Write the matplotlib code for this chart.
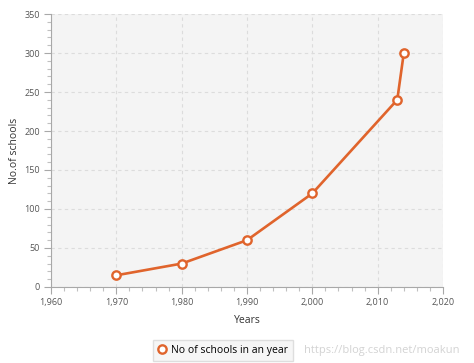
import matplotlib
matplotlib.use('Agg')
import matplotlib.pyplot as plt
from matplotlib.ticker import MultipleLocator, FuncFormatter

# data
years = [1970, 1980, 1990, 2000, 2013, 2014]
schools = [15, 30, 60, 120, 240, 300]
series_name = 'No of schools in an year'

plt.rcParams['font.family'] = ['Open Sans', 'DejaVu Sans']

fig = plt.figure(figsize=(4.74, 3.63), dpi=100, facecolor='white')
ax = fig.add_axes([0.1076, 0.2094, 0.827, 0.752])
ax.set_facecolor('#f4f4f4')

ax.plot(years, schools, color='#e0642c', linewidth=1.9, marker='o',
        markersize=6, markerfacecolor='white', markeredgecolor='#e0642c',
        markeredgewidth=1.7, label=series_name, zorder=3)

ax.set_xlim(1960, 2020)
ax.set_ylim(0, 350)
ax.xaxis.set_major_locator(MultipleLocator(10))
ax.xaxis.set_minor_locator(MultipleLocator(2))
ax.yaxis.set_major_locator(MultipleLocator(50))
ax.yaxis.set_minor_locator(MultipleLocator(10))
ax.xaxis.set_major_formatter(FuncFormatter(lambda v, p: f'{int(v):,}'))

ax.grid(True, which='major', color='#dcdcdc', linestyle=(0, (3, 3)), linewidth=0.8)
for s in ['top', 'right']:
    ax.spines[s].set_visible(False)
for s in ['left', 'bottom']:
    ax.spines[s].set_color('#a8a8a8')
    ax.spines[s].set_linewidth(0.8)

ax.tick_params(which='major', length=5, width=0.8, color='#a8a8a8',
               labelsize=6.5, labelcolor='#555555', pad=3)
ax.tick_params(which='minor', length=3, width=0.8, color='#c0c0c0')

ax.set_xlabel('Years', fontsize=7.5, color='#333333', labelpad=6)
ax.set_ylabel('No.of schools', fontsize=7.5, color='#333333', labelpad=3)

leg = fig.legend(loc='center', bbox_to_anchor=(0.47, 0.035), fontsize=7.5,
                 frameon=True, fancybox=False, handlelength=0.8,
                 handletextpad=0.4, borderpad=0.5)
leg.get_frame().set_facecolor('#f4f4f4')
leg.get_frame().set_edgecolor('#d8d8d8')
for line in leg.get_lines():
    line.set_linestyle('none')

fig.text(0.97, 0.035, 'https://blog.csdn.net/moakun', fontsize=8,
         color='#c8c8c8', ha='right', va='center', alpha=0.8)

fig.savefig('out.png', dpi=100, facecolor='white')
